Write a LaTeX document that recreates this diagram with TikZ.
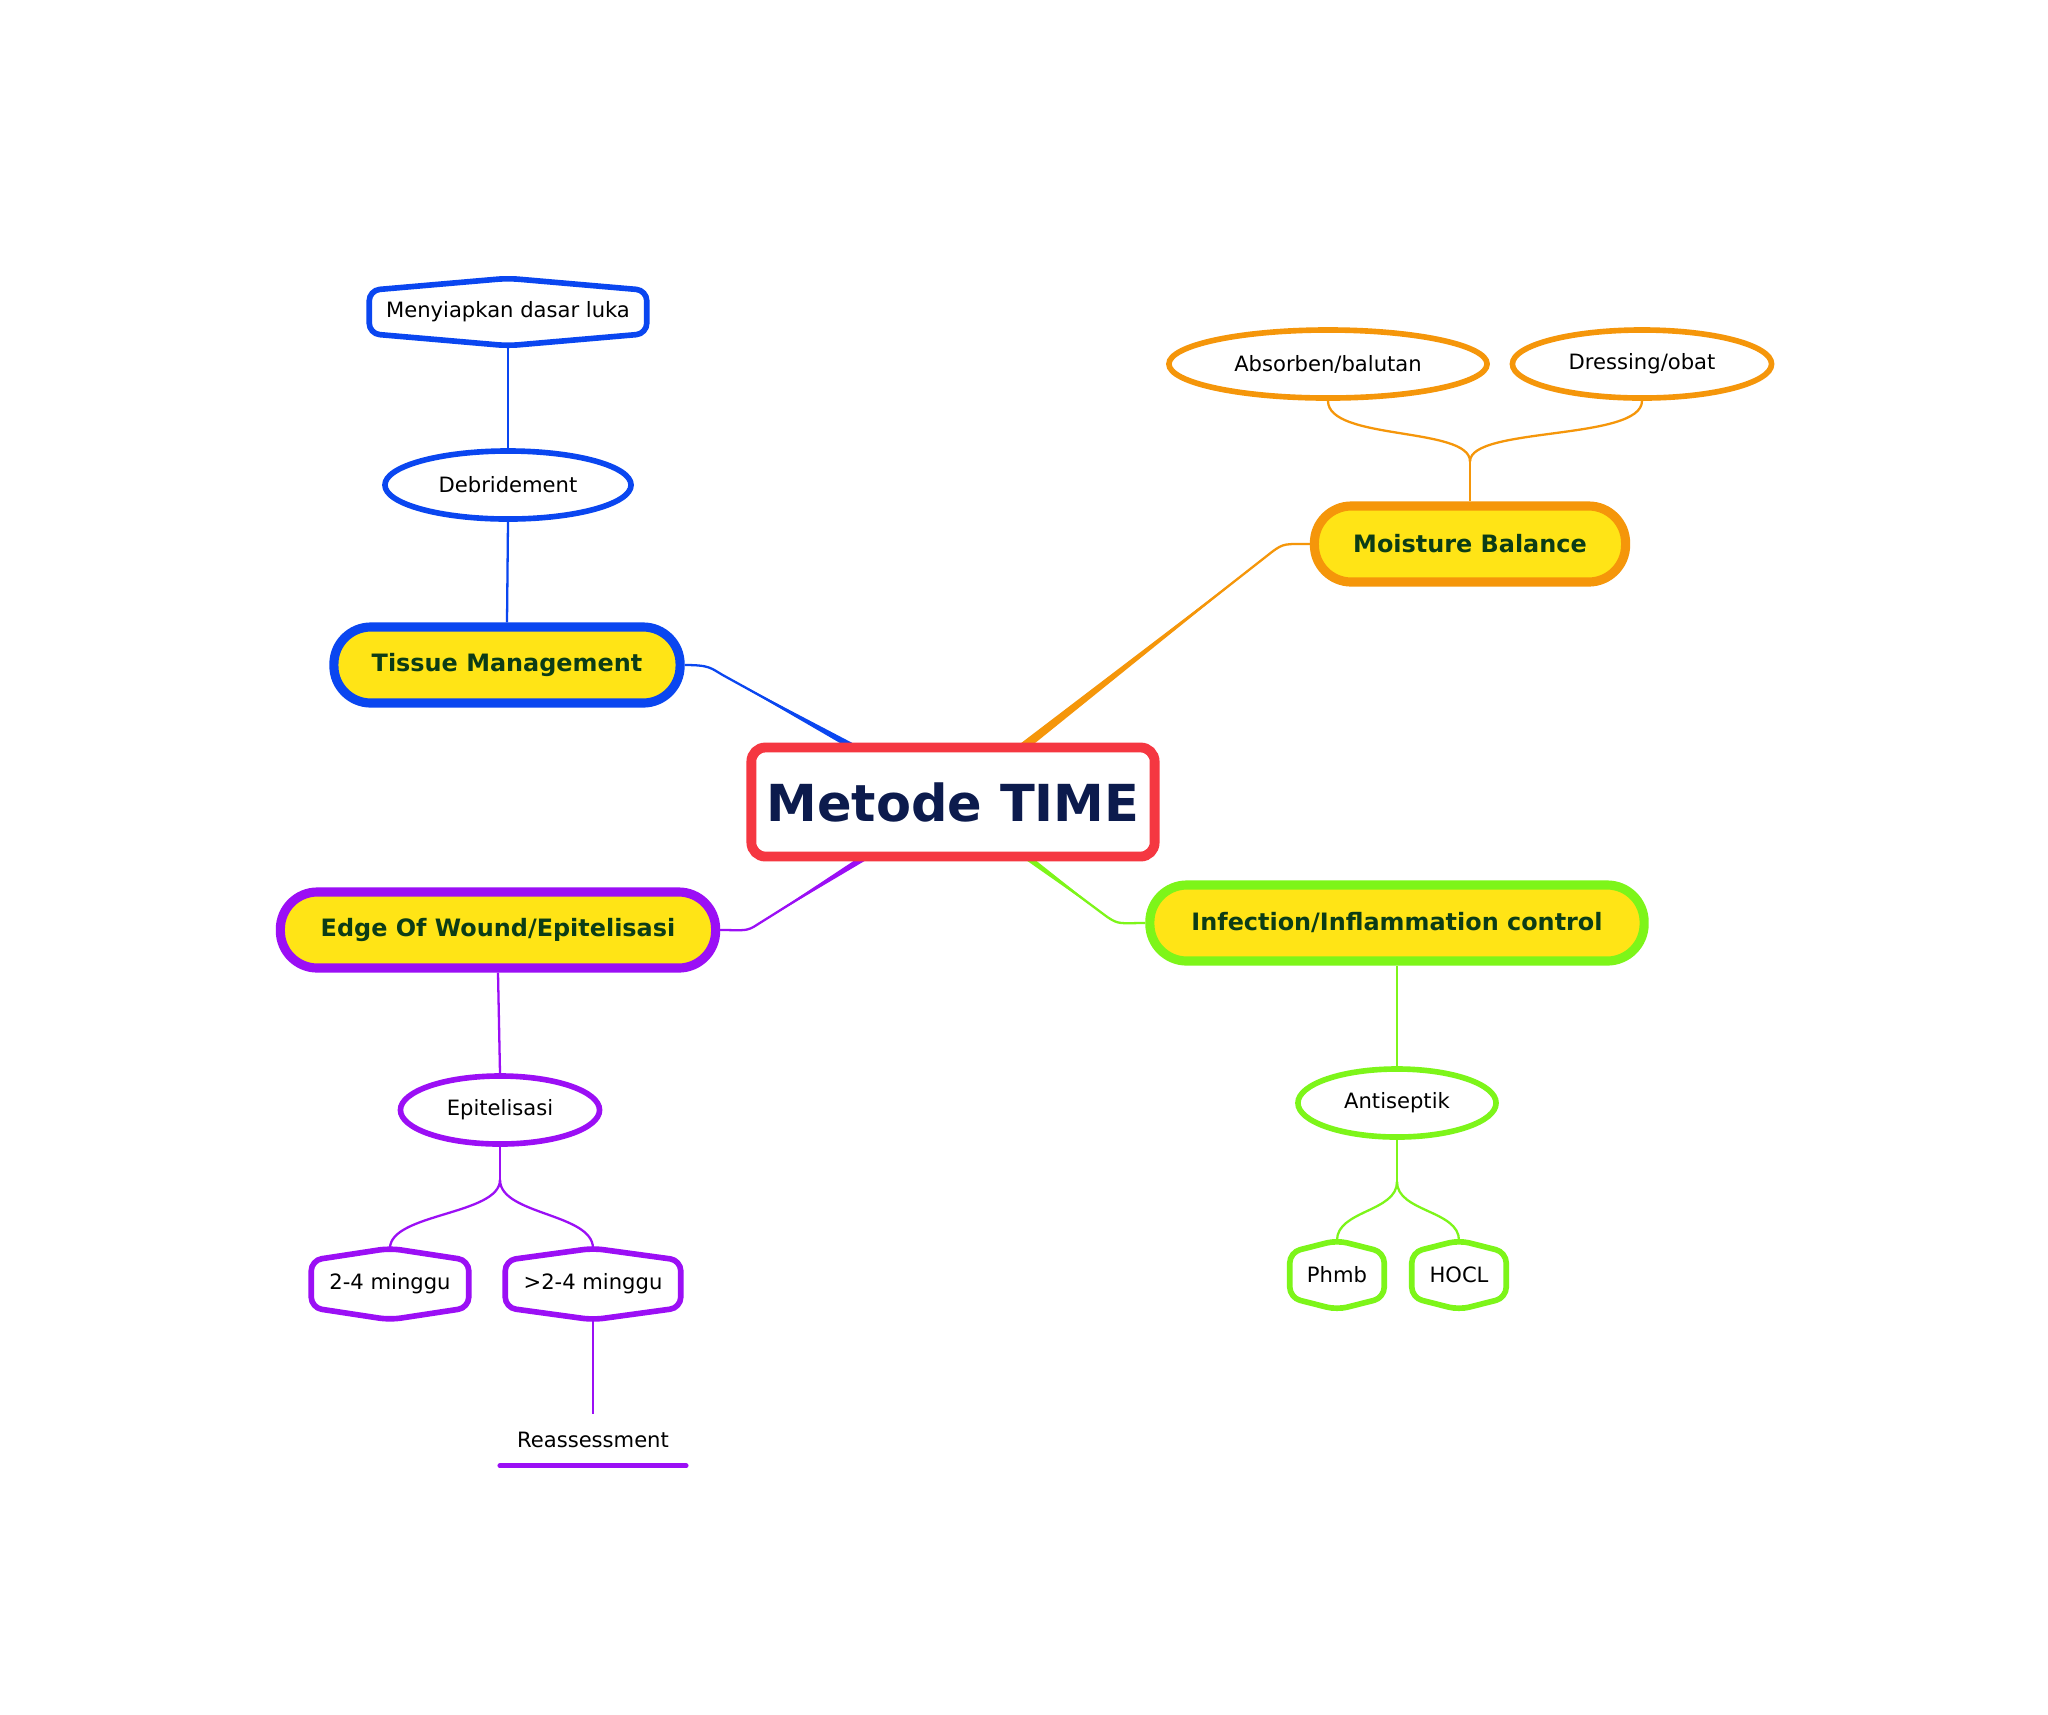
\documentclass[tikz,border=0pt]{standalone}
\usepackage{fontspec}
\setmainfont{DejaVu Sans}
\usetikzlibrary{shapes.geometric, calc}
\definecolor{TimeRed}{RGB}{245, 55, 65}
\definecolor{TissueBlue}{RGB}{10, 70, 240}
\definecolor{MoistOrange}{RGB}{245, 150, 10}
\definecolor{EdgePurple}{RGB}{155, 15, 245}
\definecolor{InfectGreen}{RGB}{125, 245, 25}
\definecolor{BranchYellow}{RGB}{255, 228, 22}
\definecolor{BranchText}{RGB}{12, 60, 22}
\definecolor{TitleNavy}{RGB}{12, 27, 77}
\pgfdeclarelayer{background}
\pgfsetlayers{background,main}

% hexagon frame round a plain node
\newcommand{\hexframe}[2]{%
  \draw[#2, line width=1.6pt, rounded corners=3pt]
    ([yshift=-1.2mm]#1.north west) -- (#1.north) -- ([yshift=-1.2mm]#1.north east)
    -- ([yshift=1.2mm]#1.south east) -- (#1.south) -- ([yshift=1.2mm]#1.south west) -- cycle;}

\begin{document}
\begin{tikzpicture}[x=0.01cm, y=-0.01cm,
                title/.style={draw=TimeRed, fill=white, line width=2.8pt, rounded corners=0.14cm, minimum width=4.03cm, minimum height=1.09cm, inner sep=0, text=TitleNavy, font=\fontsize{14.5}{17}\selectfont\bfseries},
                branch/.style={draw=#1, fill=BranchYellow, line width=2.6pt, rounded corners=0.37cm, minimum height=0.76cm, inner sep=0, text=BranchText, font=\fontsize{6.8}{8}\selectfont\bfseries},
                leaf/.style={ellipse, draw=#1, fill=white, line width=1.6pt, minimum height=0.68cm, inner sep=0, font=\fontsize{6}{7}\selectfont},
                hexleaf/.style={inner sep=0, font=\fontsize{6}{7}\selectfont},
                wire/.style={#1, line width=0.65pt}
            ]
                \useasboundingbox (0,0) rectangle (2048,1714);

                % Main Block
                \node[title] (time) at (953,802) {Metode TIME};

                % Tissue Management (top left)
                \node[branch=TissueBlue, minimum width=3.46cm] (tissue) at (507,665) {Tissue Management};
                \node[leaf=TissueBlue, minimum width=2.46cm] (debride) at (508,485) {Debridement};
                \node[hexleaf, minimum width=2.76cm, minimum height=0.66cm] (dasar) at (508,312) {Menyiapkan dasar luka};
                \hexframe{dasar}{TissueBlue}

                % Moisture Balance (top right)
                \node[branch=MoistOrange, minimum width=3.11cm] (moist) at (1470,544) {Moisture Balance};
                \node[leaf=MoistOrange, minimum width=3.18cm] (absorb) at (1328,364) {Absorben/balutan};
                \node[leaf=MoistOrange, minimum width=2.59cm] (dress) at (1642,364) {Dressing/obat};

                % Infection/Inflammation control (bottom right)
                \node[branch=InfectGreen, minimum width=4.94cm] (infect) at (1397,923) {Infection/Inflammation control};
                \node[leaf=InfectGreen, minimum width=1.98cm] (antisep) at (1397,1103) {Antiseptik};
                \node[hexleaf, minimum width=0.93cm, minimum height=0.68cm] (phmb) at (1337,1275) {Phmb};
                \node[hexleaf, minimum width=0.93cm, minimum height=0.68cm] (hocl) at (1459,1275) {HOCL};
                \hexframe{phmb}{InfectGreen}
                \hexframe{hocl}{InfectGreen}

                % Edge Of Wound (bottom left)
                \node[branch=EdgePurple, minimum width=4.35cm] (edge) at (498,930) {Edge Of Wound/Epitelisasi};
                \node[leaf=EdgePurple, minimum width=1.99cm] (epitel) at (500,1110) {Epitelisasi};
                \node[hexleaf, minimum width=1.56cm, minimum height=0.70cm] (short) at (390,1284) {2-4 minggu};
                \node[hexleaf, minimum width=1.74cm, minimum height=0.70cm] (long) at (593,1284) {>2-4 minggu};
                \hexframe{short}{EdgePurple}
                \hexframe{long}{EdgePurple}
                \node[hexleaf, minimum width=1.85cm, minimum height=0.5cm] (reass) at (593,1440) {Reassessment};
                \draw[EdgePurple, line width=1.3pt, line cap=round] (reass.south west) -- (reass.south east);

                % Connectors (behind the nodes)
                \begin{pgfonlayer}{background}
                \fill[white] (0,0) rectangle (2048,1714);

                \draw[wire=TissueBlue] (tissue.east) .. controls +(25,0) and +(-12,-7) .. ++(38,10) coordinate (tm-bend) -- (time);
                \fill[TissueBlue] ($(time.center)!1.6pt!90:(tm-bend)$) -- (tm-bend) -- ($(time.center)!1.6pt!-90:(tm-bend)$) -- cycle;
                \draw[wire=TissueBlue] (dasar.south) -- (debride.north);
                \draw[wire=TissueBlue] (debride.south) -- (tissue.north);

                \draw[wire=MoistOrange] (moist.west) .. controls +(-25,0) and +(12,-9) .. ++(-38,8) coordinate (mb-bend) -- (time);
                \fill[MoistOrange] ($(time.center)!1.6pt!90:(mb-bend)$) -- (mb-bend) -- ($(time.center)!1.6pt!-90:(mb-bend)$) -- cycle;
                \draw[wire=MoistOrange] (moist.north) -- ++(0,-40) coordinate (mb-fork);
                \draw[wire=MoistOrange] (mb-fork) .. controls +(0,-35) and +(0,40) .. (absorb.south);
                \draw[wire=MoistOrange] (mb-fork) .. controls +(0,-35) and +(0,40) .. (dress.south);

                \draw[wire=InfectGreen] (infect.west) .. controls +(-25,0) and +(12,8) .. ++(-38,-6) coordinate (ic-bend) -- (time);
                \fill[InfectGreen] ($(time.center)!1.6pt!90:(ic-bend)$) -- (ic-bend) -- ($(time.center)!1.6pt!-90:(ic-bend)$) -- cycle;
                \draw[wire=InfectGreen] (infect.south) -- (antisep.north);
                \draw[wire=InfectGreen] (antisep.south) -- ++(0,42) coordinate (ic-fork);
                \draw[wire=InfectGreen] (ic-fork) .. controls +(0,30) and +(0,-30) .. (phmb.north);
                \draw[wire=InfectGreen] (ic-fork) .. controls +(0,30) and +(0,-30) .. (hocl.north);

                \draw[wire=EdgePurple] (edge.east) .. controls +(25,0) and +(-12,8) .. ++(38,-6) coordinate (ew-bend) -- (time);
                \fill[EdgePurple] ($(time.center)!1.6pt!90:(ew-bend)$) -- (ew-bend) -- ($(time.center)!1.6pt!-90:(ew-bend)$) -- cycle;
                \draw[wire=EdgePurple] (edge.south) -- (epitel.north);
                \draw[wire=EdgePurple] (epitel.south) -- ++(0,33) coordinate (ew-fork);
                \draw[wire=EdgePurple] (ew-fork) .. controls +(0,35) and +(0,-35) .. (short.north);
                \draw[wire=EdgePurple] (ew-fork) .. controls +(0,35) and +(0,-35) .. (long.north);
                \draw[wire=EdgePurple] (long.south) -- (reass.north);
                \end{pgfonlayer}
            \end{tikzpicture}
\end{document}
